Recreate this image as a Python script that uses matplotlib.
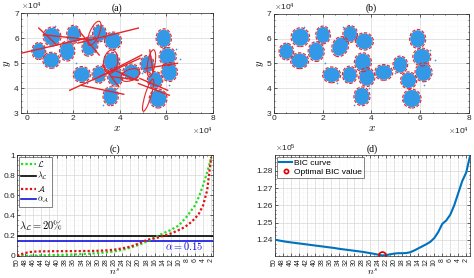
import numpy as np
import matplotlib
matplotlib.use('Agg')
import matplotlib.pyplot as plt
from matplotlib.patches import Ellipse
from matplotlib.ticker import MultipleLocator

plt.rcParams['font.family'] = ['Liberation Sans', 'DejaVu Sans']
plt.rcParams['mathtext.fontset'] = 'cm'

# ---- clusters (units of 1e4) ----
clu_x = [0.52, 1.09, 1.06, 2.02, 1.74, 2.72, 3.13, 3.71, 3.65, 2.37,
         3.11, 3.81, 4.50, 3.61, 5.18, 5.52, 5.89, 6.06, 6.13, 5.65]
clu_y = [5.48, 6.06, 5.11, 6.15, 5.48, 5.68, 6.19, 5.89, 5.05, 4.54,
         4.54, 4.45, 4.64, 3.67, 4.95, 4.32, 5.99, 5.26, 4.64, 3.58]
clu_rx = [0.30, 0.38, 0.37, 0.30, 0.33, 0.33, 0.30, 0.37, 0.35, 0.37,
          0.30, 0.33, 0.37, 0.33, 0.30, 0.33, 0.33, 0.37, 0.35, 0.38]
clu_ry = [0.34, 0.38, 0.32, 0.36, 0.40, 0.42, 0.34, 0.35, 0.38, 0.32,
          0.35, 0.38, 0.32, 0.38, 0.35, 0.34, 0.38, 0.36, 0.38, 0.38]
clu_ang = [0, 0, 0, 0, 0, -25, 0, 0, 0, 0, 0, 0, 0, 0, 0, 0, 0, 0, 0, 0]

# stray points
out_x = [1.23, 2.83, 3.07, 6.61, 3.27, 5.27, 0.54, 3.41, 6.40, 2.11, 2.59, 3.88, 5.93, 6.13, 4.95]
out_y = [6.49, 6.49, 6.52, 5.15, 3.34, 3.54, 5.82, 3.94, 5.55, 5.01, 4.21, 4.00, 3.54, 4.14, 4.60]

# extra components found in (a): elongated ellipses
ext_x = [2.91, 5.22, 5.36, 3.61, 4.45]
ext_y = [6.19, 3.71, 4.99, 5.05, 4.52]
ext_w = [1.05, 1.35, 1.10, 0.95, 0.85]
ext_h = [0.40, 0.26, 0.32, 0.60, 0.45]
ext_ang = [65, 72, 80, 80, 20]

# degenerate components in (a): line segments
seg_x0 = [-0.25, 2.20, 0.52, 0.73, 2.27, 1.85, 2.34, 3.12, 3.26, 3.68, 4.80, 4.87, 5.08, 5.29, 3.80]
seg_y0 = [5.39, 5.80, 6.40, 6.13, 6.26, 3.91, 4.11, 4.45, 4.92, 4.45, 4.18, 4.38, 4.78, 5.52, 4.70]
seg_x1 = [2.60, 4.80, 1.29, 2.76, 3.12, 4.87, 4.17, 4.94, 3.96, 4.80, 6.13, 6.06, 6.48, 5.43, 4.75]
seg_y1 = [6.00, 6.40, 5.72, 5.93, 5.32, 5.19, 3.75, 5.32, 4.05, 4.32, 3.71, 3.91, 4.99, 4.65, 4.30]

# ---- (c) curves ----
ns_c = list(range(50, 1, -1))
L_vals = [0.000, 0.000, 0.000, 0.000, 0.001, 0.002, 0.003, 0.004, 0.005, 0.006,
          0.007, 0.008, 0.009, 0.010, 0.012, 0.014, 0.016, 0.018, 0.020, 0.023,
          0.026, 0.030, 0.034, 0.038, 0.043, 0.050, 0.058, 0.068, 0.080, 0.093,
          0.106, 0.122, 0.140, 0.160, 0.180, 0.200, 0.220, 0.238, 0.255, 0.278,
          0.300, 0.345, 0.390, 0.445, 0.500, 0.590, 0.700, 0.830, 0.970]
A_vals = [0.000, 0.015, 0.027, 0.035, 0.040, 0.042, 0.043, 0.044, 0.044, 0.045,
          0.045, 0.045, 0.045, 0.045, 0.046, 0.046, 0.046, 0.047, 0.047, 0.048,
          0.049, 0.051, 0.053, 0.056, 0.060, 0.066, 0.073, 0.081, 0.090, 0.104,
          0.120, 0.138, 0.155, 0.165, 0.172, 0.182, 0.195, 0.207, 0.220, 0.237,
          0.255, 0.275, 0.300, 0.332, 0.370, 0.420, 0.500, 0.650, 0.980]
lam_L = 0.20
alpha_A = 0.15

# ---- (d) BIC (units of 1e5) ----
ns_d = list(range(50, 0, -1))
bic_e5 = [1.2401, 1.2396, 1.2392, 1.2388, 1.2385, 1.2382, 1.2379, 1.2376, 1.2373, 1.2370,
          1.2367, 1.2364, 1.2361, 1.2358, 1.2355, 1.2352, 1.2348, 1.2345, 1.2342, 1.2339,
          1.2336, 1.2333, 1.2330, 1.2326, 1.2322, 1.2318, 1.2313, 1.2309, 1.2311, 1.2316,
          1.2320, 1.2322, 1.2322, 1.2323, 1.2328, 1.2338, 1.2350, 1.2362, 1.2374, 1.2388,
          1.2410, 1.2445, 1.2492, 1.2512, 1.2545, 1.2600, 1.2670, 1.2740, 1.2790, 1.2890]
best_n = 23

blue = '#3399e6'
red = '#e5262b'
dark = '#262626'


def style(ax):
    ax.tick_params(which='both', direction='in', top=True, right=True,
                   labelsize=6, pad=1.5, colors=dark, width=0.5)
    ax.tick_params(which='major', length=2)
    ax.tick_params(which='minor', length=1)
    for s in ax.spines.values():
        s.set_linewidth(0.5)
        s.set_color(dark)
    ax.grid(which='major', color='#d8d8d8', lw=0.5)
    ax.grid(which='minor', color='#ececec', lw=0.4, ls=':')
    ax.set_axisbelow(True)


def scatter_panel(ax, extra):
    for i in range(len(clu_x)):
        ax.add_patch(Ellipse((clu_x[i], clu_y[i]), 2 * clu_rx[i] * 0.92, 2 * clu_ry[i] * 0.92,
                             angle=clu_ang[i], facecolor=blue, edgecolor='none', zorder=2))
        ax.add_patch(Ellipse((clu_x[i], clu_y[i]), 2 * clu_rx[i], 2 * clu_ry[i],
                             angle=clu_ang[i], facecolor='none', edgecolor=red,
                             lw=0.8, ls=(0, (3, 1.5)), zorder=3))
    ax.scatter(out_x, out_y, s=1.5, color=blue, zorder=2, linewidths=0)
    if extra:
        for i in range(len(ext_x)):
            ax.add_patch(Ellipse((ext_x[i], ext_y[i]), ext_w[i], ext_h[i], angle=ext_ang[i],
                                 facecolor='none', edgecolor=red, lw=0.8, zorder=3))
        for i in range(len(seg_x0)):
            ax.plot([seg_x0[i], seg_x1[i]], [seg_y0[i], seg_y1[i]], color=red, lw=1.0, zorder=4)
    ax.set_ylim(3, 7)
    ax.set_xticks([0, 2, 4, 6, 8])
    ax.set_yticks([3, 4, 5, 6, 7])
    ax.xaxis.set_minor_locator(MultipleLocator(0.5))
    ax.yaxis.set_minor_locator(MultipleLocator(0.25))
    ax.set_xlabel('$x$', fontsize=8, labelpad=1)
    ax.set_ylabel('$y$', fontsize=7.5)
    ax.yaxis.set_label_coords(-0.04, 0.5)
    ax.text(0, 1.01, r'$\times\mathregular{10^4}$', transform=ax.transAxes, fontsize=6,
            ha='left', va='bottom', color=dark)
    ax.text(1.0, -0.13, r'$\times\mathregular{10^4}$', transform=ax.transAxes, fontsize=6,
            ha='right', va='top', color=dark)
    style(ax)


fig = plt.figure(figsize=(4.74, 2.78), dpi=100)
ax_a = fig.add_axes([0.044, 0.5935, 0.405, 0.3595])
ax_b = fig.add_axes([0.5774, 0.5935, 0.4126, 0.3565])
ax_c = fig.add_axes([0.0359, 0.0802, 0.4131, 0.3622])
ax_d = fig.add_axes([0.5795, 0.0780, 0.4125, 0.3655])

scatter_panel(ax_a, True)
ax_a.set_xlim(-0.25, 8)
scatter_panel(ax_b, False)
ax_b.set_xlim(0, 8)

# (c)
ax_c.plot(ns_c, L_vals, color='#22dd22', lw=1.6, ls=(0, (1, 1)), label=r'$\mathcal{L}$', zorder=3)
ax_c.axhline(lam_L, color='black', lw=1.2, label=r'$\lambda_{\mathcal{L}}$', zorder=2)
ax_c.plot(ns_c, A_vals, color='#dd1111', lw=1.6, ls=(0, (1, 1)), label=r'$\mathcal{A}$', zorder=3)
ax_c.axhline(alpha_A, color='#1010e0', lw=1.2, label=r'$\alpha_{\mathcal{A}}$', zorder=2)
ax_c.set_xlim(50, 1.6)
ax_c.set_ylim(0, 1)
ax_c.set_xticks(list(range(50, 1, -2)))
ax_c.xaxis.set_minor_locator(MultipleLocator(1))
ax_c.yaxis.set_minor_locator(MultipleLocator(0.05))
ax_c.set_yticks([0, 0.2, 0.4, 0.6, 0.8, 1])
ax_c.set_yticklabels(['0', '0.2', '0.4', '0.6', '0.8', '1'])
style(ax_c)
ax_c.tick_params(axis='x', labelrotation=90, labelsize=5)
ax_c.text(49.6, 0.225, r'$\lambda_{\mathcal{L}} = 20\%$', fontsize=7.5, ha='left', va='bottom')
ax_c.text(13.3, 0.04, r'$\alpha = 0.15$', fontsize=7.5, color='#1010e0', ha='left', va='bottom')
ax_c.set_xlabel('$n^s$', fontsize=7, labelpad=0)
leg = ax_c.legend(loc='upper left', fontsize=6, handlelength=1.8, borderpad=0.25,
                  labelspacing=0.15, handletextpad=0.2, borderaxespad=0.2, fancybox=False)
leg.get_frame().set_edgecolor(dark)
leg.get_frame().set_linewidth(0.5)

# (d)
ax_d.plot(ns_d, bic_e5, color='#0072bd', lw=1.5, label='BIC curve', zorder=3)
ax_d.plot([best_n], [bic_e5[ns_d.index(best_n)]], 'o', mfc='none', mec='#e00000', mew=1.2,
          ms=5, label='Optimal BIC value', zorder=4)
ax_d.set_xlim(50, 1)
ax_d.set_ylim(1.2304, 1.2893)
ax_d.set_xticks(list(range(50, 1, -2)))
ax_d.xaxis.set_minor_locator(MultipleLocator(1))
ax_d.set_yticks([1.24, 1.25, 1.26, 1.27, 1.28])
ax_d.set_yticklabels(['1.24', '1.25', '1.26', '1.27', '1.28'])
ax_d.yaxis.set_minor_locator(MultipleLocator(0.0025))
style(ax_d)
ax_d.tick_params(axis='x', labelrotation=90, labelsize=5)
ax_d.set_xlabel('$n^s$', fontsize=7, labelpad=0)
ax_d.text(0, 1.01, r'$\times\mathregular{10^5}$', transform=ax_d.transAxes, fontsize=6,
          ha='left', va='bottom', color=dark)
leg = ax_d.legend(loc='upper left', fontsize=6, handlelength=1.5, borderpad=0.25,
                  labelspacing=0.15, handletextpad=0.3, borderaxespad=0.3, fancybox=False,
                  markerscale=0.6)
leg.get_frame().set_edgecolor(dark)
leg.get_frame().set_linewidth(0.5)

for ax, t in zip([ax_a, ax_b, ax_c, ax_d], ['(a)', '(b)', '(c)', '(d)']):
    ax.set_title(t, fontsize=7, family='Liberation Serif', pad=2)

fig.savefig('out.png', dpi=100)
